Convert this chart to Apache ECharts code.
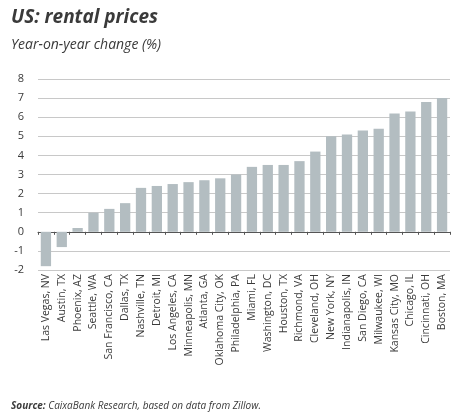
<!DOCTYPE html>
<html>
<head>
<meta charset="utf-8">
<script src="https://cdn.jsdelivr.net/npm/echarts@6/dist/echarts.min.js"></script>
<style>
	html, body { margin: 0; padding: 0; background: #fff; }
	#chart { width: 474px; height: 418px; }
</style>
</head>
<body>
<div id="chart"></div>
<script>
	// 城市
	var cities = ['Las Vegas, NV', 'Austin, TX', 'Phoenix, AZ', 'Seattle, WA', 'San Francisco, CA', 'Dallas, TX',
		'Nashville, TN', 'Detroit, MI', 'Los Angeles, CA', 'Minneapolis, MN', 'Atlanta, GA', 'Oklahoma City, OK',
		'Philadelphia, PA', 'Miami, FL', 'Washington, DC', 'Houston, TX', 'Richmond, VA', 'Cleveland, OH',
		'New York, NY', 'Indianapolis, IN', 'San Diego, CA', 'Milwaukee, WI', 'Kansas City, MO', 'Chicago, IL',
		'Cincinnati, OH', 'Boston, MA'];
	// 同比变化 (%)
	var changes = [-1.8, -0.8, 0.2, 1.0, 1.2, 1.5, 2.3, 2.4, 2.5, 2.6, 2.7, 2.8, 3.0, 3.4, 3.5, 3.5, 3.7, 4.2,
		5.0, 5.1, 5.3, 5.4, 6.2, 6.3, 6.8, 7.0];
	var yTicks = { min: -2, max: 8, interval: 1 };

	var myChart = echarts.init(document.getElementById('chart'));
	var font = 'Open Sans';
	myChart.setOption({
		animation: false,
		title: [{
			text: 'US: rental prices',
			left: 6, top: 3,
			textStyle: { fontFamily: font, fontSize: 19, fontWeight: 'bold', fontStyle: 'italic', color: '#3a3a3a' }
		}, {
			text: 'Year-on-year change (%)',
			left: 6, top: 33,
			textStyle: { fontFamily: font, fontSize: 14, fontWeight: 'normal', fontStyle: 'italic', color: '#3a3a3a' }
		}, {
			text: '{b|Source:} CaixaBank Research, based on data from Zillow.',
			left: 6, top: 396,
			textStyle: {
				fontFamily: font, fontSize: 10, fontStyle: 'italic', fontWeight: 'normal', color: '#3a3a3a',
				rich: { b: { fontFamily: font, fontSize: 10, fontStyle: 'italic', fontWeight: 'bold', color: '#3a3a3a' } }
			}
		}],
		grid: { left: 38, right: 24, top: 79, height: 191 },
		xAxis: [{
			type: 'category',
			data: cities,
			axisLine: { show: false, onZero: false },
			axisTick: { show: false },
			axisLabel: { rotate: 90, interval: 0, fontFamily: font, fontSize: 10.5, color: '#3a3a3a', margin: 4 }
		}, {
			type: 'category',
			data: cities,
			position: 'bottom',
			axisLine: { onZero: true, lineStyle: { color: '#555', width: 1 } },
			axisTick: { show: true, interval: 0, length: 3, lineStyle: { color: '#555' } },
			axisLabel: { show: false, interval: 0 }
		}],
		yAxis: {
			type: 'value',
			min: yTicks.min, max: yTicks.max, interval: yTicks.interval,
			axisLine: { show: false },
			axisTick: { show: false },
			axisLabel: { fontFamily: font, fontSize: 11, color: '#3a3a3a', margin: 14 },
			splitLine: { lineStyle: { color: '#c8c8c8', width: 1 } }
		},
		series: [{
			type: 'bar',
			data: changes,
			xAxisIndex: 0,
			barWidth: '65%',
			itemStyle: { color: '#b3bdc1' }
		}]
	});
</script>
</body>
</html>
